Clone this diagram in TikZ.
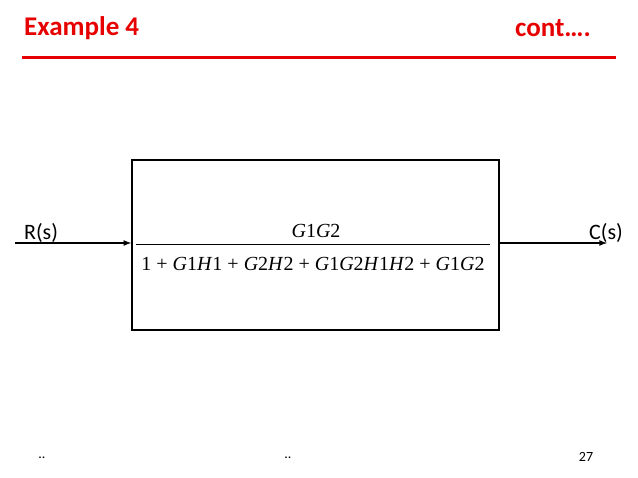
\documentclass[tikz,border=0pt]{standalone}
\usepackage{fontspec}
\setmainfont{Carlito}
\newfontfamily\tnr{Liberation Serif}
\definecolor{myred}{RGB}{230,0,0}
\begin{document}
\begin{tikzpicture}[x=1pt,y=-1pt,
  arr/.style={-latex,line width=1.6pt}]
\useasboundingbox (0,0) rectangle (638,478);
\node[anchor=west,text=myred,font=\fontsize{27}{30}\selectfont\bfseries,inner sep=0] (t1) at (24,28) {Example 4};
\node[anchor=east,text=myred,font=\fontsize{27}{30}\selectfont\bfseries,inner sep=0] (t2) at (591,28) {cont….};
\draw[myred,line width=3pt] (22,58) -- (616,58);
\node[draw,line width=1.6pt,minimum width=367pt,minimum height=170pt,inner sep=0] (b) at (315.5,245) {};
\node[font=\fontsize{22}{24}\selectfont] (rs) at (41,233) {R(s)};
\node[font=\fontsize{22}{24}\selectfont] (cs) at (606,233) {C(s)};
\coordinate (a0) at (15,243);
\coordinate (a1) at (607,243);
\draw[arr] (a0) -- (b.west|-a0);
\draw[arr] (b.east|-a0) -- (a1);
\node[font=\tnr\fontsize{20}{22}\selectfont] (num) at (316,231) {\textit{G}1\textit{G}2};
\draw[line width=0.8pt] (136,244) -- (490,244);
\node[font=\tnr\fontsize{20}{22}\selectfont] (den) at (313,264) {1 + \textit{G}1\textit{H}1 + \textit{G}2\textit{H}2 + \textit{G}1\textit{G}2\textit{H}1\textit{H}2 + \textit{G}1\textit{G}2};
\node[font=\fontsize{14}{16}\selectfont] (d1) at (42,458) {..};
\node[font=\fontsize{14}{16}\selectfont] (d2) at (288,458) {..};
\node[font=\fontsize{14}{16}\selectfont] (pg) at (586,457) {27};
\end{tikzpicture}
\end{document}
